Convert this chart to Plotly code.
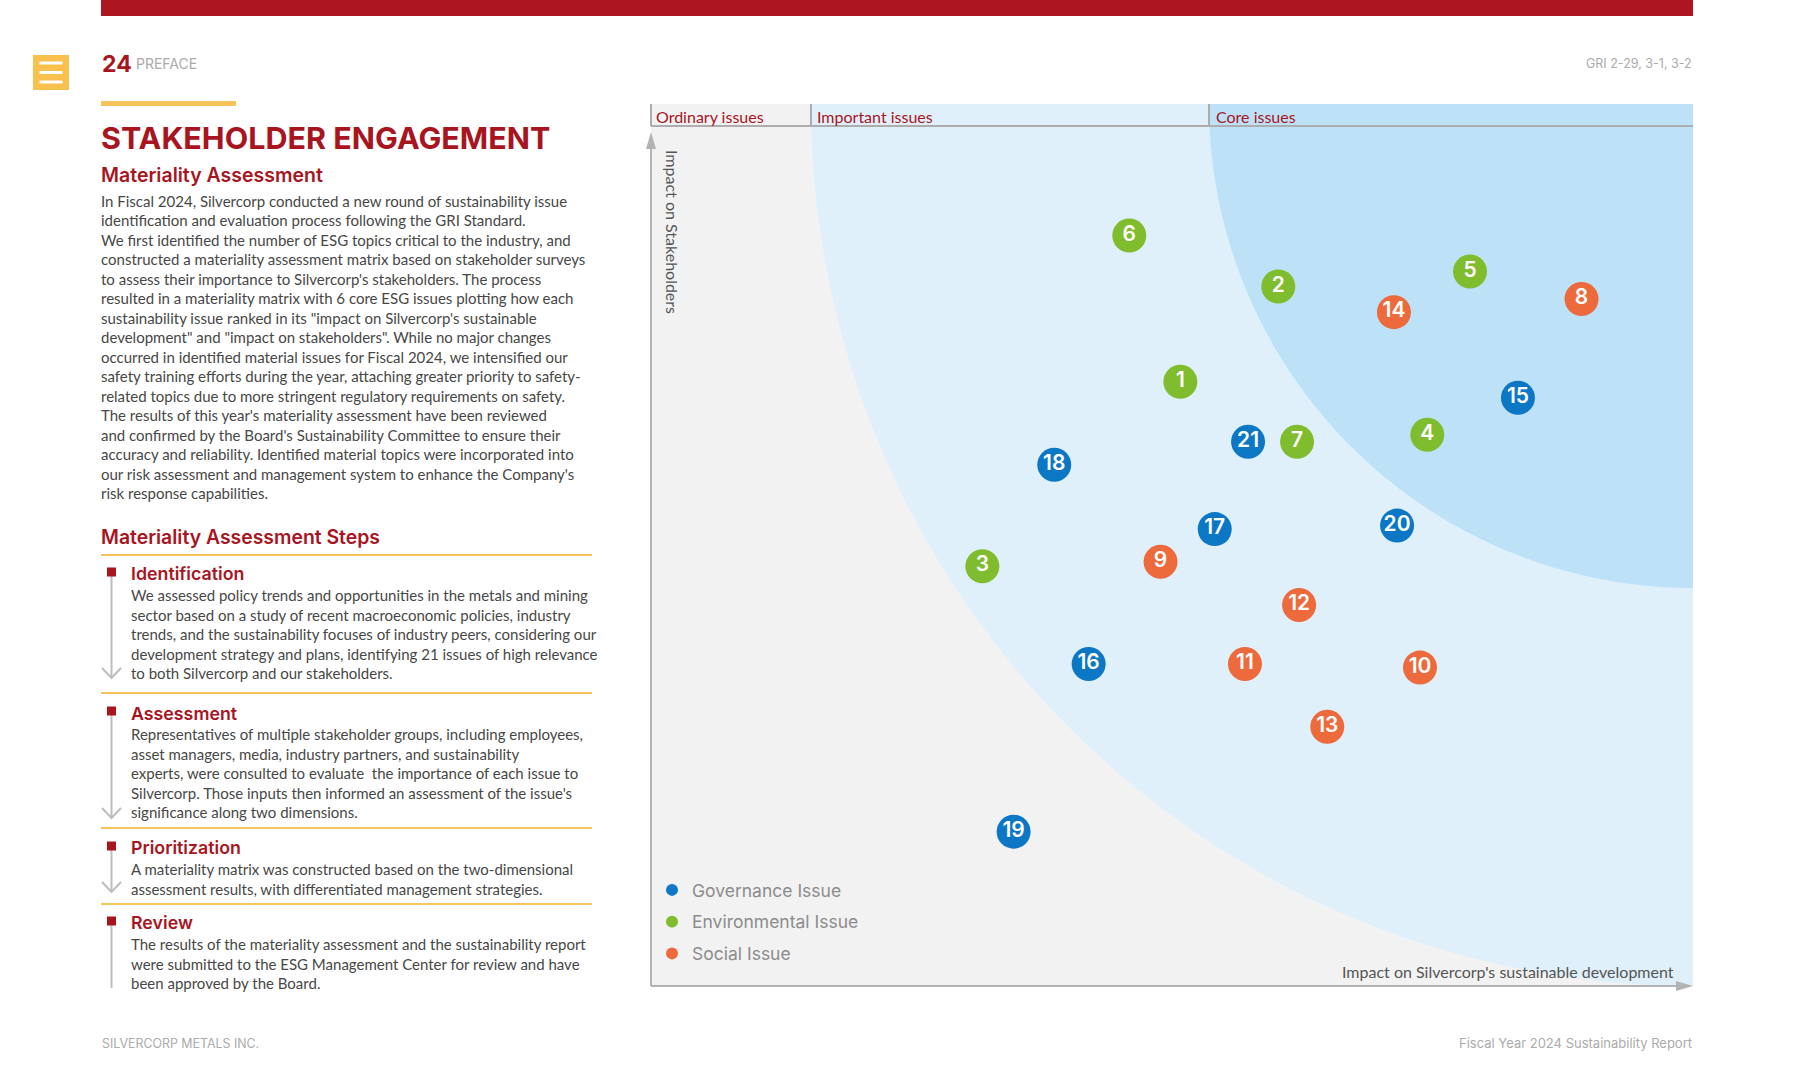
import numpy as np
import plotly.graph_objects as go

W, H = 1794, 1089

# ---------------- data ----------------
issue_ids = list(range(1, 22))
dev_impact = [50.8, 60.2, 31.8, 74.5, 78.6, 45.9, 62.0,
              89.3, 48.9, 73.8, 57.0, 62.2, 64.9, 71.3,
              83.2, 42.0, 54.1, 38.7, 34.8, 71.6, 57.3]
stake_impact = [68.5, 79.3, 47.6, 62.5, 81.0, 85.1, 61.7,
                77.9, 48.1, 36.1, 36.5, 43.2, 29.4, 76.4,
                66.7, 36.5, 51.8, 59.1, 17.5, 52.2, 61.7]
issue_type = (["Environmental Issue"] * 7 + ["Social Issue"] * 7 +
              ["Governance Issue"] * 7)
legend_order = ["Governance Issue", "Environmental Issue", "Social Issue"]
type_colors = {"Governance Issue": "#0B77C5",
               "Environmental Issue": "#7FBD2F",
               "Social Issue": "#EC6A3B"}
zone_labels = ["Ordinary issues", "Important issues", "Core issues"]

paragraph_lines = [
    "In Fiscal 2024, Silvercorp conducted a new round of sustainability issue",
    "identification and evaluation process following the GRI Standard.",
    "We first identified the number of ESG topics critical to the industry, and",
    "constructed a materiality assessment matrix based on stakeholder surveys",
    "to assess their importance to Silvercorp's stakeholders. The process",
    "resulted in a materiality matrix with 6 core ESG issues plotting how each",
    "sustainability issue ranked in its \"impact on Silvercorp's sustainable",
    "development\" and \"impact on stakeholders\". While no major changes",
    "occurred in identified material issues for Fiscal 2024, we intensified our",
    "safety training efforts during the year, attaching greater priority to safety-",
    "related topics due to more stringent regulatory requirements on safety.",
    "The results of this year's materiality assessment have been reviewed",
    "and confirmed by the Board's Sustainability Committee to ensure their",
    "accuracy and reliability. Identified material topics were incorporated into",
    "our risk assessment and management system to enhance the Company's",
    "risk response capabilities.",
]
step_titles = ["Identification", "Assessment", "Prioritization", "Review"]
step_lines = [
    ["We assessed policy trends and opportunities in the metals and mining",
     "sector based on a study of recent macroeconomic policies, industry",
     "trends, and the sustainability focuses of industry peers, considering our",
     "development strategy and plans, identifying 21 issues of high relevance",
     "to both Silvercorp and our stakeholders."],
    ["Representatives of multiple stakeholder groups, including employees,",
     "asset managers, media, industry partners, and sustainability",
     "experts, were consulted to evaluate  the importance of each issue to",
     "Silvercorp. Those inputs then informed an assessment of the issue's",
     "significance along two dimensions."],
    ["A materiality matrix was constructed based on the two-dimensional",
     "assessment results, with differentiated management strategies."],
    ["The results of the materiality assessment and the sustainability report",
     "were submitted to the ESG Management Center for review and have",
     "been approved by the Board."],
]

# ---------------- styling ----------------
RED = "#A8151F"
BODY = "Lato"
HEAD = "Inter"
TXT = "#474747"
GRID = "#ADADAD"
YEL = "#F6C45A"


def px(x):
    return x / W


def py(y):
    return 1 - y / H


# chart area in page pixels
CX0, CX1, CY0, CY1 = 651, 1693, 104, 986
sx = (CX1 - CX0) / 100.0
sy = (CY1 - CY0) / 100.0

fig = go.Figure()

for t in legend_order:
    idx = [i for i, v in enumerate(issue_type) if v == t]
    fig.add_trace(go.Scatter(
        x=[dev_impact[i] for i in idx],
        y=[stake_impact[i] for i in idx],
        text=[str(issue_ids[i]) for i in idx],
        mode="markers+text",
        name=t,
        legendgroup=t,
        marker=dict(size=34, color=type_colors[t], line=dict(width=0)),
        textposition="middle center",
        textfont=dict(family=HEAD, size=21, color="white", weight=600),
        hoverinfo="skip",
    ))

shapes = []


def quarter(rpx):
    th = np.linspace(np.pi, 1.5 * np.pi, 160)
    xs = 100 + (rpx / sx) * np.cos(th)
    ys = 100 + (rpx / sy) * np.sin(th)
    pts = [f"{x:.3f},{y:.3f}" for x, y in zip(xs, ys)]
    return "M 100,100 L " + " L ".join(pts) + " Z"


shapes.append(dict(type="path", xref="x", yref="y", path=quarter(882),
                   fillcolor="#DFF0FA", line=dict(width=0), layer="below"))
shapes.append(dict(type="path", xref="x", yref="y", path=quarter(484),
                   fillcolor="#BDE2F7", line=dict(width=0), layer="below"))


def pline(x0, y0, x1, y1, color, w):
    shapes.append(dict(type="line", xref="paper", yref="paper",
                       x0=px(x0), y0=py(y0), x1=px(x1), y1=py(y1),
                       line=dict(color=color, width=w)))


def prect(x0, y0, x1, y1, color):
    shapes.append(dict(type="rect", xref="paper", yref="paper",
                       x0=px(x0), y0=py(y0), x1=px(x1), y1=py(y1),
                       fillcolor=color, line=dict(width=0)))


def ppath(pts, color, fill=True, w=2):
    p = "M " + " L ".join(f"{px(a):.5f},{py(b):.5f}" for a, b in pts)
    if fill:
        p += " Z"
        shapes.append(dict(type="path", xref="paper", yref="paper", path=p,
                           fillcolor=color, line=dict(width=0)))
    else:
        shapes.append(dict(type="path", xref="paper", yref="paper", path=p,
                           line=dict(color=color, width=w)))


# header decorations
prect(101, 0, 1693, 16, "#AD1620")
prect(33, 55, 69, 90, "#F8C04D")
for yy in (63, 72.5, 82):
    pline(39.5, yy, 62.5, yy, "white", 3)
prect(101, 101, 236, 106, YEL)

# chart header band
pline(CX0, 126, CX1, 126, GRID, 2)
pline(CX0, CY0, CX0, 126, GRID, 2)
pline(811, CY0, 811, 126, GRID, 2)
pline(1209, CY0, 1209, 126, GRID, 2)
# axes with arrows
pline(CX0, CY1, CX0, 146, "#B3B3B3", 2)
ppath([(CX0, 132), (CX0 - 5, 149), (CX0 + 5, 149)], "#B3B3B3")
pline(CX0, CY1, 1678, CY1, "#B3B3B3", 2)
ppath([(1693, CY1), (1676, CY1 - 5), (1676, CY1 + 5)], "#B3B3B3")

# steps decoration
for yy in (555, 693, 828, 904):
    pline(101, yy, 592, yy, YEL, 2)
bullet_y = [572, 711, 846, 921]
line_end = [678, 818, 892, 988]
chev = [True, True, True, False]
for by, le, c in zip(bullet_y, line_end, chev):
    pline(111.5, by, 111.5, le, "#BDBDBD", 2)
    if c:
        ppath([(102, le - 10), (111.5, le), (121, le - 10)], "#BDBDBD",
              fill=False, w=2)
    prect(107, by - 4.5, 116, by + 4.5, RED)

annotations = []


def txt(x, y, s, size, color, family=BODY, anchor="left", weight=None,
        angle=0):
    f = dict(size=size, color=color, family=family)
    if weight:
        f["weight"] = weight
    annotations.append(dict(x=px(x), y=py(y), xref="paper", yref="paper",
                            text=s, showarrow=False, xanchor=anchor,
                            yanchor="middle", font=f, textangle=angle))


txt(100, 64, "24", 23, RED, HEAD, weight=700)
txt(134, 64, "PREFACE", 14, "#ABABAB", HEAD)
txt(1694, 63, "GRI 2-29, 3-1, 3-2", 12.5, "#ABABAB", HEAD, anchor="right")
txt(99, 137, "STAKEHOLDER ENGAGEMENT", 30.5, RED, HEAD, weight=700)
txt(99, 175, "Materiality Assessment", 19.5, RED, HEAD, weight=600)
for i, s in enumerate(paragraph_lines):
    txt(99, 200.7 + 19.5 * i, s, 15, TXT)
txt(99, 537, "Materiality Assessment Steps", 19.4, RED, HEAD, weight=600)
head_y = [573, 713, 848, 922]
first_y = [595, 734, 869, 944]
for hy, fy, t, lines in zip(head_y, first_y, step_titles, step_lines):
    txt(129, hy, t, 17.8, RED, HEAD, weight=600)
    for j, s in enumerate(lines):
        txt(129, fy + 19.5 * j, s, 15, TXT)

# chart texts
txt(654, 116, zone_labels[0], 16, RED)
txt(815, 116, zone_labels[1], 16, RED)
txt(1214, 116, zone_labels[2], 16, RED)
txt(672, 232, "Impact on Stakeholders", 16, "#555555", anchor="center",
    angle=90)
txt(1676, 971, "Impact on Silvercorp's sustainable development", 16,
    "#555555", anchor="right")

# footer
txt(100, 1043, "SILVERCORP METALS INC.", 12.4, "#ABABAB", HEAD)
txt(1694, 1043, "Fiscal Year 2024 Sustainability Report", 13, "#ABABAB",
    HEAD, anchor="right")

fig.update_layout(
    width=W, height=H,
    margin=dict(l=0, r=0, t=0, b=0),
    paper_bgcolor="white",
    plot_bgcolor="#F2F2F2",
    xaxis=dict(domain=[px(CX0), px(CX1)], range=[0, 100], visible=False,
               fixedrange=True),
    yaxis=dict(domain=[py(CY1), py(CY0)], range=[0, 100], visible=False,
               fixedrange=True),
    shapes=shapes,
    annotations=annotations,
    showlegend=True,
    legend=dict(x=px(652), y=py(872), xanchor="left", yanchor="top",
                bgcolor="rgba(0,0,0,0)", itemsizing="constant",
                tracegroupgap=6, itemwidth=30,
                font=dict(family=HEAD, size=17.5, color="#8C8C8C")),
)

# remove the default 8px body margin so the page is drawn edge to edge
fig.write_html("out.html",
               config={"displayModeBar": False},
               post_script="document.body.style.margin='0';")
